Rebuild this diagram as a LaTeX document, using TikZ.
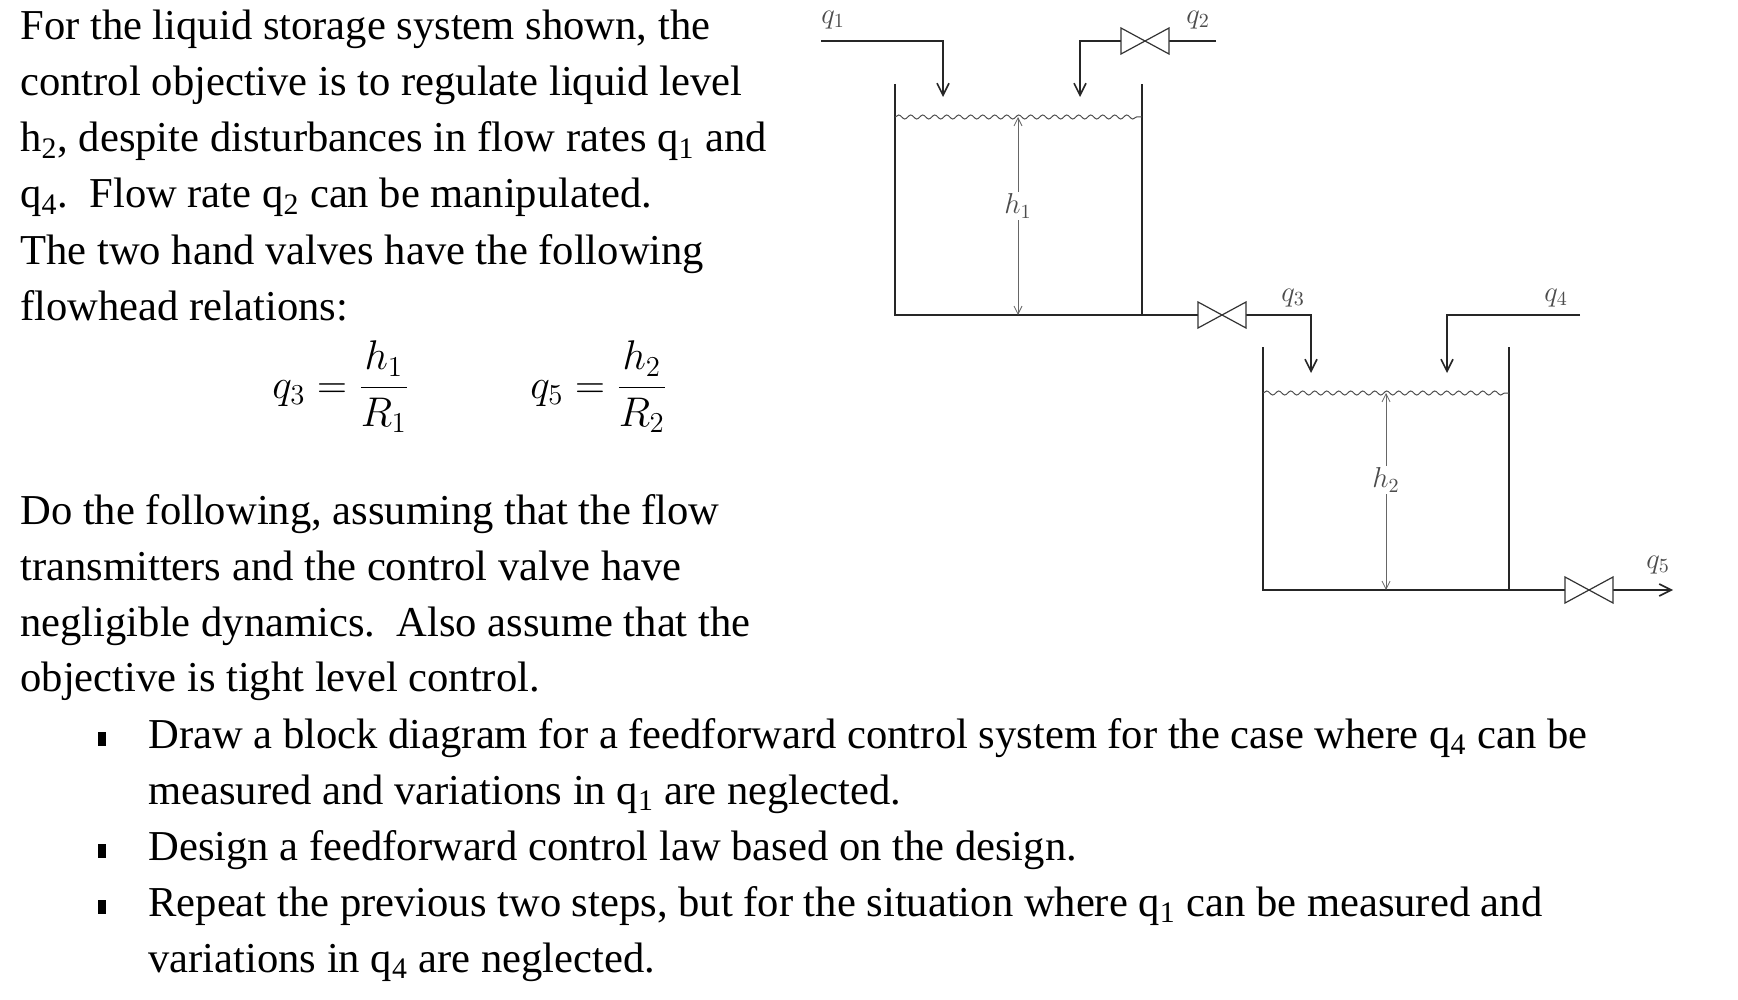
\documentclass[tikz,border=0pt]{standalone}
\usepackage{fontspec}
\setmainfont{Liberation Serif}
\usetikzlibrary{decorations.pathmorphing,arrows.meta}
\begin{document}
\begin{tikzpicture}[x=0.5pt,y=-0.5pt,
  txt/.style={anchor=base west,inner sep=0pt,font=\fontsize{21.3}{28}\selectfont},
  lbl/.style={inner sep=0pt,text=black!70,font=\fontsize{14}{16}\selectfont},
  wall/.style={line width=1.4pt,black!85},
  pipe/.style={line width=1.4pt,black!85},
  flow/.style={pipe,-{Straight Barb[length=6pt,width=6pt,line width=0.8pt]}},
  dim/.style={line width=0.4pt,black!60,{Straight Barb[length=4pt,width=4pt]}-{Straight Barb[length=4pt,width=4pt]}},
  water/.style={line width=0.5pt,black!70,decorate,decoration={snake,amplitude=1pt,segment length=6pt}},
  vlv/.style={line width=0.6pt,black!80,fill=white}]
\useasboundingbox (0,0) rectangle (1738,1000);
% text
\node[txt] (t1) at (20,40) {For the liquid storage system shown, the};
\node[txt] (t2) at (20,96) {control objective is to regulate liquid level};
\node[txt] (t3) at (20,152) {h\textsubscript{2}, despite disturbances in flow rates q\textsubscript{1} and};
\node[txt] (t4) at (20,208) {q\textsubscript{4}.\ \ Flow rate q\textsubscript{2} can be manipulated.};
\node[txt] (t5) at (20,264) {The two hand valves have the following};
\node[txt] (t6) at (20,320) {flowhead relations:};
\node[anchor=base west,inner sep=0pt,font=\fontsize{20}{24}\selectfont] (e1) at (272,398) {$q_3=\displaystyle\frac{h_1}{R_1}$};
\node[anchor=base west,inner sep=0pt,font=\fontsize{20}{24}\selectfont] (e2) at (530,398) {$q_5=\displaystyle\frac{h_2}{R_2}$};
\node[txt] (t7) at (20,524) {Do the following, assuming that the flow};
\node[txt] (t8) at (20,580) {transmitters and the control valve have};
\node[txt] (t9) at (20,636) {negligible dynamics.\ \ Also assume that the};
\node[txt] (t10) at (20,691) {objective is tight level control.};
\node[txt] (b1) at (148,748) {Draw a block diagram for a feedforward control system for the case where q\textsubscript{4} can be};
\node[txt] (b1b) at (148,804) {measured and variations in q\textsubscript{1} are neglected.};
\node[txt] (b2) at (148,860) {Design a feedforward control law based on the design.};
\node[txt] (b3) at (148,916) {Repeat the previous two steps, but for the situation where q\textsubscript{1} can be measured and};
\node[txt] (b3b) at (148,972) {variations in q\textsubscript{4} are neglected.};
\foreach \y in {748,860,916} \fill (98,\y-16) rectangle (106,\y-2);
% tank 1
\draw[wall] (895,84) -- (895,315) -- (1142,315) -- (1142,84);
\draw[water] (895,117) -- (1142,117);
\draw[dim] (1018,117) -- (1018,315);
\node[lbl,fill=white,inner sep=1pt] (h1) at (1018,206) {$h_1$};
% tank 2
\draw[wall] (1263,347) -- (1263,590) -- (1509,590) -- (1509,347);
\draw[water] (1263,393) -- (1509,393);
\draw[dim] (1386,393) -- (1386,590);
\node[lbl,fill=white,inner sep=1pt] (h2) at (1386,480) {$h_2$};
% q1
\draw[flow] (821,41) -- (943,41) -- (943,97);
\node[lbl] (q1) at (833,20) {$q_1$};
% q2
\draw[flow] (1216,41) -- (1080,41) -- (1080,97);
\draw[vlv] (1121,28) -- (1169,54) -- (1169,28) -- (1121,54) -- cycle;
\node[lbl] (q2) at (1198,20) {$q_2$};
% q3
\draw[flow] (1142,315) -- (1311,315) -- (1311,373);
\draw[vlv] (1198,302) -- (1246,328) -- (1246,302) -- (1198,328) -- cycle;
\node[lbl] (q3) at (1293,298) {$q_3$};
% q4
\draw[flow] (1580,315) -- (1447,315) -- (1447,373);
\node[lbl] (q4) at (1556,298) {$q_4$};
% q5
\draw[flow] (1509,590) -- (1673,590);
\draw[vlv] (1565,577) -- (1613,603) -- (1613,577) -- (1565,603) -- cycle;
\node[lbl] (q5) at (1658,565) {$q_5$};
\end{tikzpicture}
\end{document}
